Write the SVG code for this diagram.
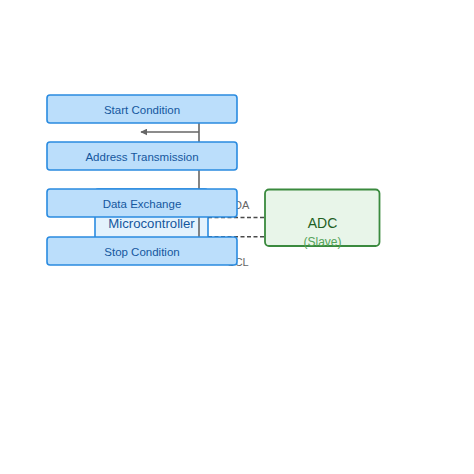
<svg xmlns="http://www.w3.org/2000/svg" width="474" height="474" viewBox="0 0 474 474">
<style>
.step rect{fill:#bbdefb;stroke:#2a8be0;stroke-width:1.6}
.step text{font-family:"Liberation Sans",Arial,sans-serif;font-size:11.5px;fill:#15579e;text-anchor:middle}
.dev text{font-family:"Liberation Sans",Arial,sans-serif;text-anchor:middle}
.bus{stroke:#4a4a4a;stroke-width:1.5;stroke-dasharray:4,2.5;fill:none}
.lbl{font-family:"Liberation Sans",Arial,sans-serif;font-size:11px;fill:#666;text-anchor:middle}
.flow{stroke:#666;stroke-width:1.6;fill:none}
</style>
<defs>
<marker id="ah" viewBox="0 0 10 10" refX="9" refY="5" markerWidth="7" markerHeight="7" orient="auto" markerUnits="userSpaceOnUse">
<path d="M0,0 L10,5 L0,10 z" fill="#666"/>
</marker>
</defs>
<rect width="474" height="474" fill="#fff"/>
<g id="microcontroller" class="dev">
<rect x="95" y="189" width="113" height="57" rx="3" fill="#e3f2fd" stroke="#2a8be0" stroke-width="1.6"/>
<text x="151.5" y="227.5" font-size="13.2" fill="#15579e">Microcontroller</text>
</g>
<g id="adc" class="dev">
<rect x="265" y="189.5" width="114.5" height="56.5" rx="4" fill="#e8f5e9" stroke="#3a8a3e" stroke-width="1.8"/>
<text x="322.5" y="228" font-size="14" fill="#1f5f24">ADC</text>
<text x="322.5" y="246" font-size="12" fill="#55a35a">(Slave)</text>
</g>
<g id="connectors">
<line class="bus" x1="208" y1="217.5" x2="265" y2="217.5"/>
<line class="bus" x1="208" y1="236.8" x2="265" y2="236.8"/>
<text class="lbl" x="238" y="208.5">SDA</text>
<text class="lbl" x="238" y="265.5">SCL</text>
<line class="flow" x1="199" y1="123" x2="199" y2="238"/>
<line class="flow" x1="199" y1="132" x2="141" y2="132" marker-end="url(#ah)"/>
</g>
<g id="start" class="step">
<rect x="47" y="95" width="190" height="28" rx="3"/>
<text x="142" y="113.5">Start Condition</text>
</g>
<g id="address" class="step">
<rect x="47" y="142" width="190" height="28" rx="3"/>
<text x="142" y="160.5">Address Transmission</text>
</g>
<g id="data" class="step">
<rect x="47" y="189" width="190" height="28" rx="3"/>
<text x="142" y="207.5">Data Exchange</text>
</g>
<g id="stop" class="step">
<rect x="47" y="237" width="190" height="28" rx="3"/>
<text x="142" y="255.5">Stop Condition</text>
</g>
</svg>
